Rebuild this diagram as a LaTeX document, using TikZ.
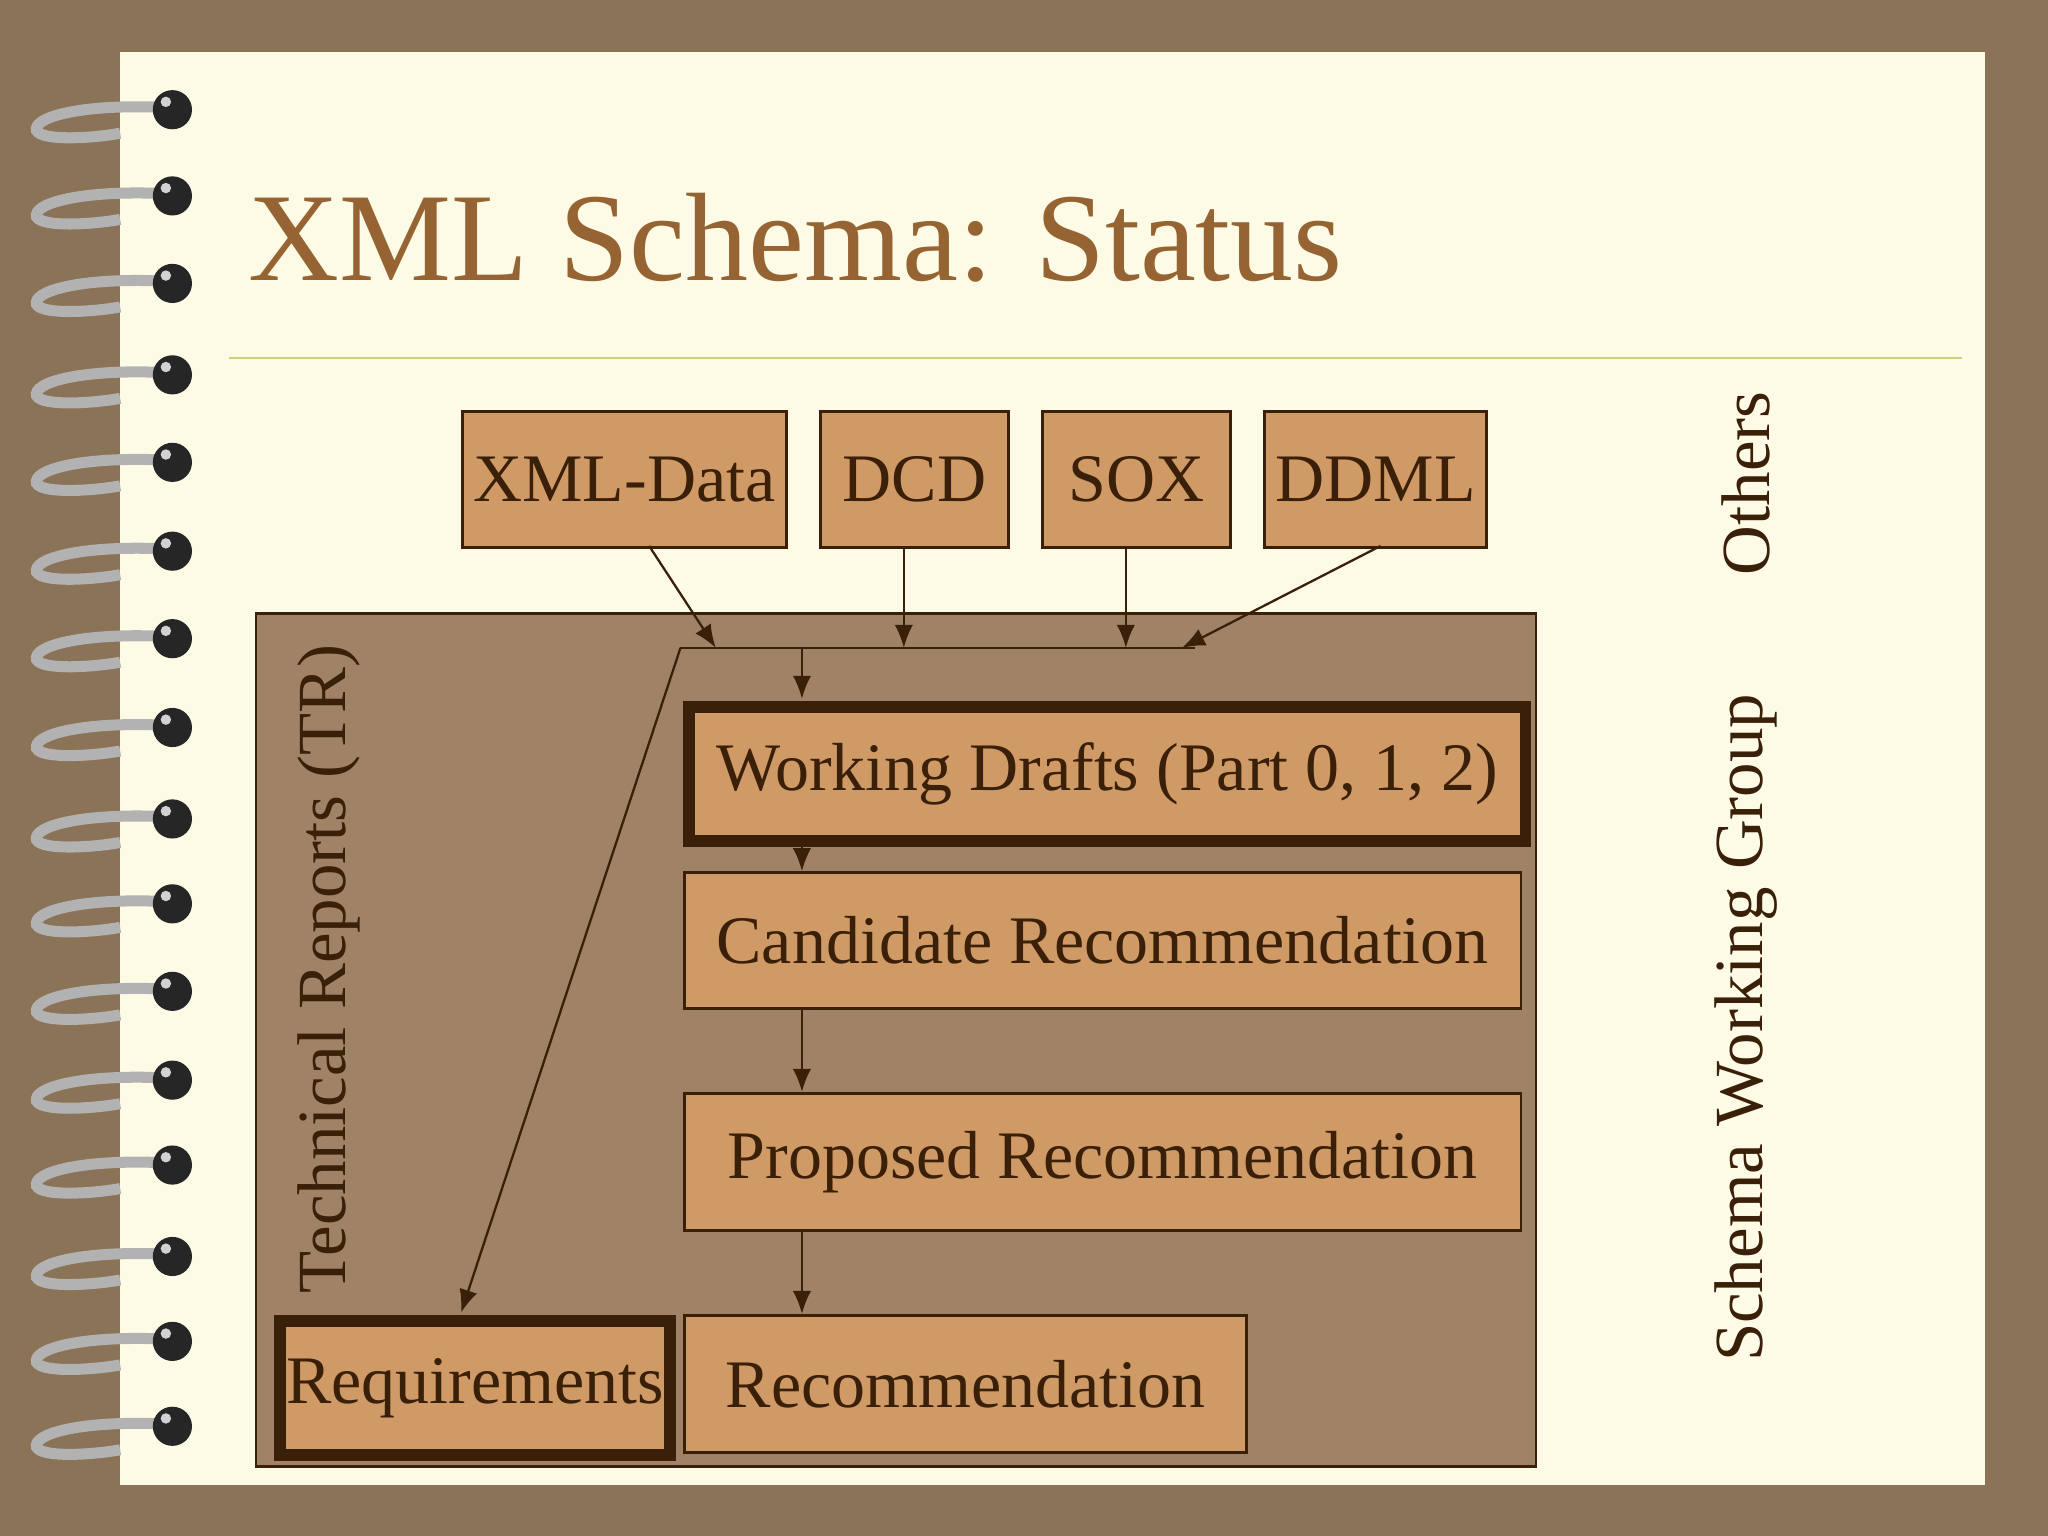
\documentclass[tikz,border=0pt]{standalone}
\usepackage{fontspec}
\setmainfont{Liberation Serif}
\usetikzlibrary{arrows.meta}
\definecolor{bg}{RGB}{139,115,88}
\definecolor{page}{RGB}{253,251,230}
\definecolor{titlec}{RGB}{150,100,50}
\definecolor{inner}{RGB}{160,130,102}
\definecolor{boxf}{RGB}{208,154,102}
\definecolor{ink}{RGB}{58,32,8}
\tikzset{
 bx/.style={draw=ink,fill=boxf,line width=0.6pt,inner sep=0pt,anchor=north west,text=ink,font=\fontsize{14.8}{18}\selectfont},
 thk/.style={line width=2.6pt},
 ar/.style={draw=ink,line width=0.5pt,-{Latex[length=5pt,width=4pt]}},
 vt/.style={rotate=90,text=ink,font=\fontsize{15}{18}\selectfont}
}
\begin{document}
\begin{tikzpicture}[x=0.01cm,y=-0.01cm]
\fill[bg] (0,0) rectangle (1568,1176);
\useasboundingbox (0,0) rectangle (1568,1176);
\fill[page] (92,40) rectangle (1520,1137);
% rings
\foreach \y in {82,148,215,285,352,420,487,555,625,690,757,825,890,960,1025,1090}{
  \draw[gray!60,line width=2.4pt] (120,\y) .. controls (60,\y-2) and (25,\y+8) .. (28,\y+18) .. controls (32,\y+26) and (70,\y+24) .. (92,\y+20);
  \fill[black!85] (132,\y+2) circle (15);
  \fill[gray!35] (127,\y-4) circle (4);
}
\node[anchor=west,text=titlec,font=\fontsize{27.4}{32}\selectfont] (title) at (178,182) {XML Schema: Status};
\draw[olive!40,line width=0.5pt] (175,274) -- (1502,274);
\draw[ink,fill=inner,line width=0.6pt] (196,470) rectangle (1176,1123);
\node[bx,minimum width=2.48cm,minimum height=1.04cm] (xd) at (353,314) {XML-Data};
\node[bx,minimum width=1.44cm,minimum height=1.04cm] (dcd) at (627,314) {DCD};
\node[bx,minimum width=1.44cm,minimum height=1.04cm] (sox) at (797,314) {SOX};
\node[bx,minimum width=1.70cm,minimum height=1.04cm] (ddml) at (967,314) {DDML};
\node[bx,thk,minimum width=6.40cm,minimum height=1.02cm] (wd) at (523,537) {Working Drafts (Part 0, 1, 2)};
\node[bx,minimum width=6.40cm,minimum height=1.04cm] (cr) at (523,667) {Candidate Recommendation};
\node[bx,minimum width=6.40cm,minimum height=1.05cm] (pr) at (523,836) {Proposed Recommendation};
\node[bx,minimum width=4.30cm,minimum height=1.05cm] (rec) at (523,1006) {Recommendation};
\node[bx,thk,minimum width=2.98cm,minimum height=1.02cm] (req) at (210,1007) {Requirements};
\coordinate (h1) at (521,496); \coordinate (h2) at (915,496);
\draw[ink,line width=0.5pt] (h1) -- (h2);
\draw[ar] (497,418) -- (548,496);
\draw[ar] (692,418) -- (692,496);
\draw[ar] (862,418) -- (862,496);
\draw[ar] (1057,418) -- (905,496);
\draw[ar] (614,496) -- (614,535);
\draw[ar] (h1) -- (353,1005);
\draw[ar] (614,641) -- (614,667);
\draw[ar] (614,771) -- (614,836);
\draw[ar] (614,941) -- (614,1006);
\node[vt] (tr) at (252,742) {Technical Reports (TR)};
\node[vt] (oth) at (1337,370) {Others};
\node[vt] (swg) at (1337,787) {Schema Working Group};
\end{tikzpicture}
\end{document}
